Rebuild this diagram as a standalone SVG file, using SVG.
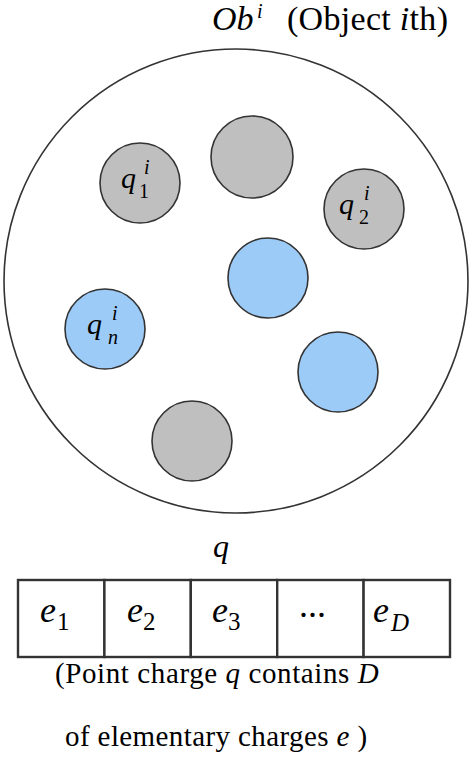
<svg xmlns="http://www.w3.org/2000/svg" width="474" height="758" viewBox="0 0 474 758">
<style>
.gray{fill:#BFBFBF;stroke:#333;stroke-width:1.6}
.blue{fill:#9DCBF8;stroke:#333;stroke-width:1.6}
.cell{fill:#fff;stroke:#333;stroke-width:2.4}
</style>
<rect width="474" height="758" fill="#fff"/>
<g id="title">
<text font-family="Liberation Serif" font-style="italic" x="212" y="30" font-size="34">Ob</text>
<text font-family="Liberation Serif" font-style="italic" x="257" y="18" font-size="20">i</text>
<text font-family="Liberation Serif" x="287" y="30" font-size="34" letter-spacing="0.3">(Object <tspan font-style="italic">i</tspan>th)</text>
</g>
<g id="object">
<circle cx="236" cy="281" r="232" fill="none" stroke="#333" stroke-width="1.6"/>
</g>
<g id="q1">
<circle cx="140" cy="183" r="40" class="gray"/>
<text font-family="Liberation Serif" font-style="italic" x="121" y="188" font-size="30">q</text>
<text font-family="Liberation Serif" x="139" y="198" font-size="20">1</text>
<text font-family="Liberation Serif" font-style="italic" x="144" y="174" font-size="20">i</text>
</g>
<g id="gray-top">
<circle cx="252" cy="157" r="41" class="gray"/>
</g>
<g id="q2">
<circle cx="364" cy="209" r="40" class="gray"/>
<text font-family="Liberation Serif" font-style="italic" x="339" y="214" font-size="30">q</text>
<text font-family="Liberation Serif" x="359" y="224" font-size="20">2</text>
<text font-family="Liberation Serif" font-style="italic" x="364" y="200" font-size="20">i</text>
</g>
<g id="blue-center">
<circle cx="268" cy="278" r="40" class="blue"/>
</g>
<g id="qn">
<circle cx="105" cy="329" r="40" class="blue"/>
<text font-family="Liberation Serif" font-style="italic" x="87" y="334" font-size="30">q</text>
<text font-family="Liberation Serif" font-style="italic" x="108" y="344" font-size="20">n</text>
<text font-family="Liberation Serif" font-style="italic" x="112" y="320" font-size="20">i</text>
</g>
<g id="blue-right">
<circle cx="338" cy="372" r="40" class="blue"/>
</g>
<g id="gray-bottom">
<circle cx="192" cy="441" r="40" class="gray"/>
</g>
<g id="connectors"></g>
<g id="q-label">
<text font-family="Liberation Serif" font-style="italic" x="213" y="557" font-size="32">q</text>
</g>
<g id="charge-array">
<rect x="18" y="580" width="86.4" height="77" class="cell"/>
<rect x="104.4" y="580" width="86.4" height="77" class="cell"/>
<rect x="190.8" y="580" width="86.4" height="77" class="cell"/>
<rect x="277.2" y="580" width="86.4" height="77" class="cell"/>
<rect x="363.6" y="580" width="86.4" height="77" class="cell"/>
<text font-family="Liberation Serif" font-style="italic" x="40" y="622" font-size="36">e</text>
<text font-family="Liberation Serif" x="57" y="630" font-size="25">1</text>
<text font-family="Liberation Serif" font-style="italic" x="127" y="622" font-size="36">e</text>
<text font-family="Liberation Serif" x="143" y="630" font-size="25">2</text>
<text font-family="Liberation Serif" font-style="italic" x="212" y="622" font-size="36">e</text>
<text font-family="Liberation Serif" x="228" y="630" font-size="25">3</text>
<text font-family="Liberation Serif" x="299" y="617" font-size="36">...</text>
<text font-family="Liberation Serif" font-style="italic" x="373" y="622" font-size="36">e</text>
<text font-family="Liberation Serif" font-style="italic" x="391" y="631" font-size="25">D</text>
</g>
<g id="caption">
<text font-family="Liberation Serif" x="55" y="683" font-size="29" letter-spacing="0.6">(Point charge <tspan font-style="italic">q</tspan> contains <tspan font-style="italic">D</tspan></text>
<text font-family="Liberation Serif" x="65" y="746" font-size="29" letter-spacing="0.4">of elementary charges <tspan font-style="italic">e</tspan> )</text>
</g>
</svg>
